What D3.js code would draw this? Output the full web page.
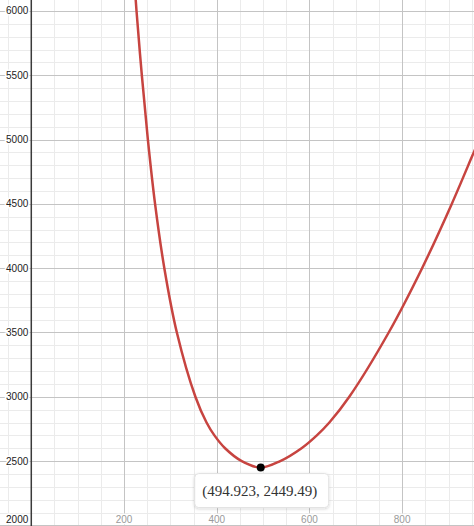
<!DOCTYPE html>
<html>
<head>
<meta charset="utf-8">
<script src="https://cdn.jsdelivr.net/npm/d3@7"></script>
<style>
    html, body { margin: 0; padding: 0; background: #fff; }
    svg { display: block; }
</style>
</head>
<body>
<div class="myPlot"></div>
<script>
// points (x, y)
var curveX = [220, 227, 238.5, 251.5, 267, 287, 314, 354, 378, 395, 418, 454, 494.923, 537, 583, 616, 643, 686, 771, 843, 907, 952, 958]
var curveY = [6360, 6000, 5500, 5000, 4500, 4000, 3500, 3000, 2800, 2700, 2600, 2500, 2449.49, 2500, 2600, 2700, 2800, 3000, 3500, 4000, 4500, 4880, 4930]

var minPoint = { x: 494.923, y: 2449.49 }
var pointLabel = '(494.923, 2449.49)'

var xTicks = [200, 400, 600, 800]
var yTicks = [2000, 2500, 3000, 3500, 4000, 4500, 5000, 5500, 6000]

var width = 474
var height = 526

var svg = d3
    .select('.myPlot')
    .append('svg')
    .attr('width', width)
    .attr('height', height)
    .style('background-color', '#ffffff')

var xScale = d3.scaleLinear().domain([-67.5, 955]).range([0, width])
var yScale = d3.scaleLinear().domain([1995.3, 6085.5]).range([height, 0])

var grid = svg.append('g')

// minor grid
grid.selectAll('.vminor')
    .data(d3.range(-50, 1000, 50))
    .enter()
    .append('line')
    .attr('x1', (d) => Math.round(xScale(d)) + 0.5)
    .attr('x2', (d) => Math.round(xScale(d)) + 0.5)
    .attr('y1', 0)
    .attr('y2', height)
    .attr('stroke', '#ebebeb')
    .attr('stroke-width', 1)

grid.selectAll('.hminor')
    .data(d3.range(2000, 6100, 100))
    .enter()
    .append('line')
    .attr('y1', (d) => Math.round(yScale(d)) + 0.5)
    .attr('y2', (d) => Math.round(yScale(d)) + 0.5)
    .attr('x1', 0)
    .attr('x2', width)
    .attr('stroke', '#ebebeb')
    .attr('stroke-width', 1)

// major grid
grid.selectAll('.vmajor')
    .data(xTicks)
    .enter()
    .append('line')
    .attr('x1', (d) => Math.round(xScale(d)) + 0.5)
    .attr('x2', (d) => Math.round(xScale(d)) + 0.5)
    .attr('y1', 0)
    .attr('y2', height)
    .attr('stroke', '#c4c4c4')
    .attr('stroke-width', 1)

grid.selectAll('.hmajor')
    .data(yTicks)
    .enter()
    .append('line')
    .attr('y1', (d) => Math.round(yScale(d)) + 0.5)
    .attr('y2', (d) => Math.round(yScale(d)) + 0.5)
    .attr('x1', 0)
    .attr('x2', width)
    .attr('stroke', '#c4c4c4')
    .attr('stroke-width', 1)

// y axis (x = 0)
svg.append('line')
    .attr('x1', xScale(0))
    .attr('x2', xScale(0))
    .attr('y1', 0)
    .attr('y2', height)
    .attr('stroke', '#3a3a3a')
    .attr('stroke-width', 1.5)

// y labels
svg.append('g')
    .selectAll('text')
    .data(yTicks)
    .enter()
    .append('text')
    .attr('x', xScale(0) - 3)
    .attr('y', (d) => Math.min(yScale(d), height - 7))
    .attr('dy', '0.35em')
    .attr('text-anchor', 'end')
    .style('font-family', '"Liberation Sans", Arial, sans-serif')
    .style('font-size', '10px')
    .style('fill', '#222')
    .style('stroke', '#fff')
    .style('stroke-width', 3)
    .style('paint-order', 'stroke')
    .text((d) => d)

// x labels (clamped to bottom, faded)
svg.append('g')
    .selectAll('text')
    .data(xTicks)
    .enter()
    .append('text')
    .attr('x', (d) => xScale(d))
    .attr('y', height - 7)
    .attr('dy', '0.35em')
    .attr('text-anchor', 'middle')
    .style('font-family', '"Liberation Sans", Arial, sans-serif')
    .style('font-size', '10px')
    .style('fill', '#9a9a9a')
    .style('stroke', '#fff')
    .style('stroke-width', 3)
    .style('paint-order', 'stroke')
    .text((d) => d)

// curve
var pts = curveX.map((v, i) => [v, curveY[i]])
var line = d3.line()
    .x((d) => xScale(d[0]))
    .y((d) => yScale(d[1]))
    .curve(d3.curveCatmullRom.alpha(0.5))

svg.append('clipPath').attr('id', 'clip')
    .append('rect').attr('width', width).attr('height', height)

svg.append('path')
    .datum(pts)
    .attr('clip-path', 'url(#clip)')
    .attr('d', line)
    .attr('fill', 'none')
    .attr('stroke', '#c74440')
    .attr('stroke-width', 2.5)
    .attr('stroke-linejoin', 'round')

// point + label
var defs = svg.append('defs')
defs.append('filter').attr('id', 'shadow')
    .attr('x', '-20%').attr('y', '-30%').attr('width', '140%').attr('height', '160%')
    .append('feDropShadow')
    .attr('dx', 0).attr('dy', 1).attr('stdDeviation', 1.5)
    .attr('flood-color', '#000').attr('flood-opacity', 0.18)

var px = xScale(minPoint.x)
var py = yScale(minPoint.y)

svg.append('circle')
    .attr('cx', px)
    .attr('cy', py)
    .attr('r', 4)
    .attr('fill', '#000')

var lab = svg.append('g').attr('transform', `translate(${px + 1}, ${py + 23})`)
lab.append('rect')
    .attr('x', -67)
    .attr('y', -17)
    .attr('width', 134)
    .attr('height', 34)
    .attr('rx', 4)
    .attr('fill', '#fff')
    .attr('stroke', '#e2e2e2')
    .attr('filter', 'url(#shadow)')
lab.append('text')
    .attr('x', -2)
    .attr('y', 0)
    .attr('dy', '0.35em')
    .attr('text-anchor', 'middle')
    .style('font-family', '"Liberation Serif", "Times New Roman", serif')
    .style('font-size', '15px')
    .style('fill', '#333')
    .text(pointLabel)
</script>
</body>
</html>
